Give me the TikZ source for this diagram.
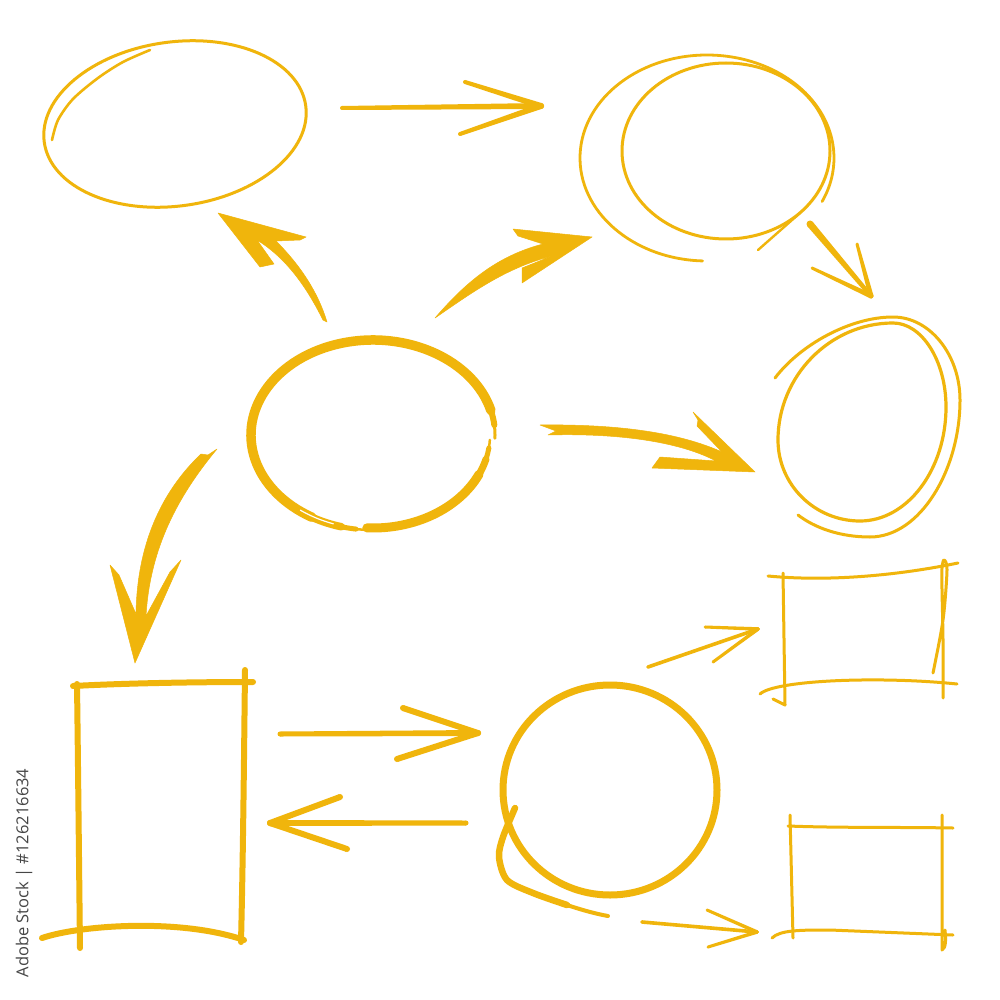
\documentclass[tikz,border=0pt]{standalone}
\usepackage{fontspec}
\setsansfont{Open Sans}
\usetikzlibrary{calc}
\definecolor{hl}{RGB}{240,181,12}
\definecolor{wmgray}{RGB}{70,70,70}
% tapered straight brush line: from #1 to #2, half width #3 at start, #4 at end
\newcommand\bline[4]{%
  \fill[hl] ($#1!#3pt!90:#2$) -- ($#2!#4pt!-90:#1$) -- ($#2!#4pt!90:#1$) -- ($#1!#3pt!-90:#2$) -- cycle;
  \fill[hl] #1 circle[radius=#3pt];
  \fill[hl] #2 circle[radius=#4pt];}
\begin{document}
\begin{tikzpicture}[x=1pt,y=-1pt,
  pen/.style={draw=hl, line cap=round, line join=round},
  brush/.style={fill=hl, draw=hl, line width=0.5pt, line join=round}]
\useasboundingbox[fill=white] (0,0) rectangle (1000,1000);

% ---------- shapes ----------
% top-left ellipse
\begin{scope}[rotate around={8:(175,124)}]
\draw[pen, line width=3] (175,124) ellipse[x radius=132, y radius=82];
\end{scope}
\draw[pen, line width=2.6] plot[smooth] coordinates {(52,140) (58,120) (73,99) (98,78) (123,62) (150,50)};

% top-right double circle
\draw[pen, line width=3] (726,151) ellipse[x radius=104, y radius=88];
\draw[pen, line width=2.8] (707,158) ++(92:127 and 103) arc[start angle=92, end angle=385, x radius=127, y radius=103];
\draw[pen, line width=2.4] (800,213) -- (758,250);

% right egg
\draw[pen, line width=3.2] (778,440) .. controls (778,376) and (830,323) .. (893,323)
  .. controls (922,323) and (946,361) .. (946,407)
  .. controls (946,470) and (907,521) .. (860,521)
  .. controls (815,521) and (778,485) .. cycle;
\draw[pen, line width=3] (775,378) .. controls (800,345) and (850,317) .. (893,317)
  .. controls (930,317) and (960,355) .. (960,400)
  .. controls (960,470) and (920,537) .. (870,537)
  .. controls (840,537) and (815,528) .. (798,515);

% centre ellipse (thick brush)
\foreach \a/\b/\w in {2/-6/3, -6/-15/6, -15/-240/9.5, -240/-255/7.5, -255/-262/5, -262/-272/2.5}
  \draw[pen, line width=\w] (373,435) ++(\a:122 and 95) arc[start angle=\a, end angle=\b, x radius=122, y radius=95];
\foreach \a/\b/\w in {93/25/9, 25/15/7, 15/8/5, 8/3/2.5}
  \draw[pen, line width=\w] (373,435) ++(\a:117 and 93) arc[start angle=\a, end angle=\b, x radius=117, y radius=93];
\draw[white, line width=1.2] (373,435) ++(109:121 and 94) arc[start angle=109, end angle=127, x radius=121, y radius=94];

% left rectangle
\draw[pen, line width=6] (73,686) .. controls (130,683) and (200,682) .. (253,682);
\draw[pen, line width=6] (77,684) .. controls (78,760) and (79,860) .. (80,948);
\draw[pen, line width=6] (245,670) .. controls (244,760) and (243,860) .. (241,942);
\draw[pen, line width=6] (42,938) .. controls (80,925) and (180,918) .. (244,940);

% bottom circle
\draw[pen, line width=7] (610,790) ellipse[x radius=107, y radius=105];
\draw[pen, line width=6.5] plot[smooth] coordinates {(515,808) (503,837) (499,857) (507,880) (533,893) (567,905)};
\draw[pen, line width=4] (567,905) .. controls (585,911) and (597,914) .. (608,916);

% upper-right rectangle
\draw[pen, line width=3] (768,576) .. controls (830,582) and (900,575) .. (958,563);
\draw[pen, line width=3] (760,694) .. controls (775,680) and (880,676) .. (957,684);
\draw[pen, line width=3] (783,573) -- (785,705) -- (773,699);
\draw[pen, line width=3] plot[smooth] coordinates {(943,698) (943,640) (942,590) (942,568) (944,560) (947,570) (943,620) (933,673)};

% lower-right rectangle
\draw[pen, line width=3] (788,826) .. controls (840,828) and (900,827) .. (953,828);
\draw[pen, line width=3] (772,938) .. controls (780,930) and (800,930) .. (830,930) -- (953,935);
\draw[pen, line width=3] (790,815) -- (793,938);
\draw[pen, line width=3] (942,815) -- (942,950) .. controls (946,948) and (946,940) .. (945,930);

% ---------- connectors ----------
\coordinate (t1s) at (342,108);  \coordinate (t1t) at (541,106);
\coordinate (t1u) at (465,82);   \coordinate (t1l) at (460,134);
\bline{(t1s)}{(t1t)}{2}{3}
\bline{(t1u)}{(t1t)}{2}{3}
\bline{(t1l)}{(t1t)}{2}{3}

\coordinate (t2s) at (810,224);  \coordinate (t2t) at (871,296);
\coordinate (t2u) at (857,244);  \coordinate (t2l) at (812,268);
\bline{(t2s)}{(t2t)}{3.5}{2}
\bline{(t2u)}{(t2t)}{1.5}{2.5}
\bline{(t2l)}{(t2t)}{1.5}{2.5}

\coordinate (m1s) at (280,734);  \coordinate (m1t) at (478,733);
\coordinate (m1u) at (403,708);  \coordinate (m1l) at (397,759);
\bline{(m1s)}{(m1t)}{2.5}{3}
\bline{(m1u)}{(m1t)}{3}{3}
\bline{(m1l)}{(m1t)}{3}{3}

\coordinate (m2s) at (466,823);  \coordinate (m2t) at (270,823);
\coordinate (m2u) at (340,797);  \coordinate (m2l) at (347,849);
\bline{(m2s)}{(m2t)}{2.5}{3}
\bline{(m2u)}{(m2t)}{3}{3}
\bline{(m2l)}{(m2t)}{3}{3}

\coordinate (r1s) at (648,667);  \coordinate (r1t) at (758,629);
\coordinate (r1u) at (705,627);  \coordinate (r1l) at (713,662);
\bline{(r1s)}{(r1t)}{1.8}{1.8}
\bline{(r1u)}{(r1t)}{1.5}{1.8}
\bline{(r1l)}{(r1t)}{1.5}{1.8}

\coordinate (r2s) at (642,922);  \coordinate (r2t) at (757,932);
\coordinate (r2u) at (707,910);  \coordinate (r2l) at (708,947);
\bline{(r2s)}{(r2t)}{1.8}{1.8}
\bline{(r2u)}{(r2t)}{1.5}{1.8}
\bline{(r2l)}{(r2t)}{1.5}{1.8}

% curved brush arrows
\coordinate (aB) at (218,213);
\fill[brush] (aB) -- (306,237) -- (300,240) -- (276,241) .. controls (300,265) and (318,292) .. (327,322) -- (323,320) .. controls (306,286) and (286,258) .. (257,240) -- (274,264) -- (260,267) -- cycle;

\coordinate (aA) at (592,237);
\fill[brush] (aA) -- (513,229) -- (518,236) -- (543,244) .. controls (497,256) and (466,282) .. (435,318) .. controls (470,294) and (505,268) .. (552,256) -- (522,268) -- (522,283) -- cycle;

\coordinate (aC) at (755,472);
\fill[brush] (aC) -- (693,412) -- (698,420) -- (697,426) -- (722,452) .. controls (680,433) and (620,424) .. (540,425) -- (556,431) -- (548,435) .. controls (620,433) and (680,442) .. (716,461) -- (660,457) -- (652,468) -- cycle;

\coordinate (aD) at (135,663);
\fill[brush] (aD) -- (110,565) -- (119,575) -- (136,614) .. controls (137,545) and (161,492) .. (201,454) -- (208,455) -- (217,449) .. controls (178,496) and (150,548) .. (146,616) -- (170,572) -- (181,560) -- cycle;

% watermark id
\node[rotate=90, text=wmgray, font=\sffamily\fontsize{16.5}{16.5}\selectfont, inner sep=0pt] (wm) at (24,873) {Adobe Stock | \#126216634};
\end{tikzpicture}
\end{document}
